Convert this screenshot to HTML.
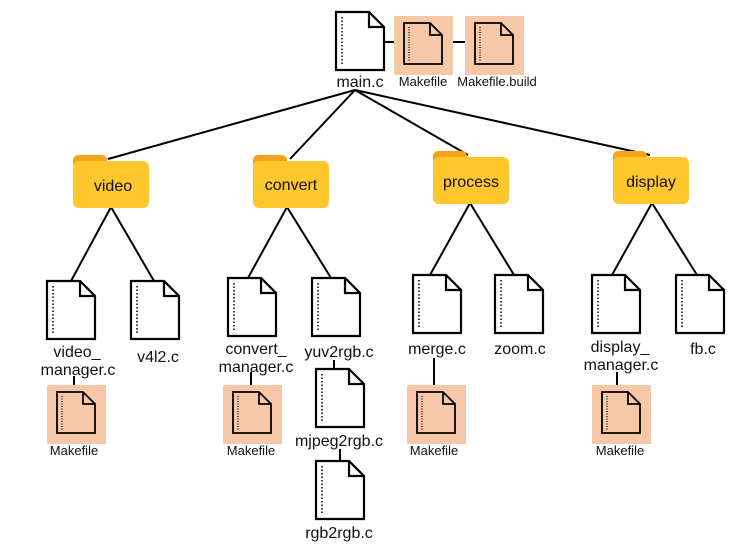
<!DOCTYPE html>
<html><head><meta charset="utf-8"><style>
html,body{margin:0;padding:0;background:#fff;}
svg{display:block;}
text{font-family:"Liberation Sans",sans-serif;fill:#111;}
</style></head><body>
<svg width="744" height="560" viewBox="0 0 744 560" xmlns="http://www.w3.org/2000/svg">
<defs>
<g id="doc">
<path d="M0,0 H33 L48,15 V58 H0 Z" fill="#fff" stroke="#000" stroke-width="2.2" stroke-linejoin="miter"/>
<path d="M33,0 V15 H48" fill="none" stroke="#000" stroke-width="2.2"/>
<line x1="6" y1="5" x2="6" y2="54" stroke="#000" stroke-width="1.5" stroke-dasharray="1.5,2"/>
</g>
<g id="mk">
<rect x="0" y="0" width="59" height="59" fill="#f7c8a8"/>
<path d="M10,7 H36 L48,19 V48 H10 Z" fill="none" stroke="#000" stroke-width="1.8"/>
<path d="M36,7 V19 H48" fill="none" stroke="#000" stroke-width="1.8"/>
<line x1="15" y1="11" x2="15" y2="45" stroke="#000" stroke-width="1.2" stroke-dasharray="1,1.5"/>
</g>
<g id="fold">
<rect x="0" y="0" width="34" height="14" rx="5" fill="#f7a21b"/>
<rect x="0" y="6" width="76" height="47" rx="6" fill="#ffc72c"/>
</g>
</defs>

<g stroke="#000" stroke-width="2" fill="none">
<line x1="384" y1="42" x2="394" y2="42"/>
<line x1="453" y1="42" x2="465" y2="42"/>
<line x1="355" y1="90" x2="108" y2="159"/>
<line x1="355" y1="90" x2="290" y2="159"/>
<line x1="355" y1="90" x2="468" y2="155"/>
<line x1="355" y1="90" x2="650" y2="155"/>
<line x1="111" y1="207" x2="71" y2="281"/>
<line x1="111" y1="207" x2="154" y2="281"/>
<line x1="74" y1="376" x2="74" y2="385"/>
<line x1="287" y1="207" x2="248" y2="278"/>
<line x1="287" y1="207" x2="331" y2="278"/>
<line x1="251" y1="372" x2="251" y2="385"/>
<line x1="334" y1="360" x2="334" y2="369"/>
<line x1="340" y1="449" x2="340" y2="461"/>
<line x1="470" y1="203" x2="430" y2="275"/>
<line x1="470" y1="203" x2="514" y2="275"/>
<line x1="434" y1="358" x2="434" y2="385"/>
<line x1="652" y1="203" x2="612" y2="275"/>
<line x1="652" y1="203" x2="697" y2="275"/>
<line x1="617" y1="372" x2="617" y2="385"/>
</g>

<use href="#doc" x="336" y="12"/>
<use href="#mk" x="394" y="16"/>
<use href="#mk" x="465" y="16"/>
<text x="360" y="87" font-size="16" text-anchor="middle">main.c</text>
<text x="423" y="86" font-size="13" text-anchor="middle">Makefile</text>
<text x="497" y="86" font-size="13" text-anchor="middle">Makefile.build</text>

<use href="#fold" x="73" y="155"/>
<text x="113" y="191" font-size="16" text-anchor="middle">video</text>
<use href="#fold" x="253" y="155"/>
<text x="291" y="190" font-size="16" text-anchor="middle">convert</text>
<use href="#fold" x="433" y="151"/>
<text x="471" y="187" font-size="16" text-anchor="middle">process</text>
<use href="#fold" x="613" y="151"/>
<text x="651" y="187" font-size="16" text-anchor="middle">display</text>

<use href="#doc" x="47" y="281"/>
<use href="#doc" x="131" y="281"/>
<text x="77" y="357" font-size="16" text-anchor="middle">video_</text>
<text x="78" y="375" font-size="16" text-anchor="middle">manager.c</text>
<text x="158" y="362" font-size="16" text-anchor="middle">v4l2.c</text>
<use href="#mk" x="47" y="385"/>
<text x="74" y="455" font-size="13" text-anchor="middle">Makefile</text>

<use href="#doc" x="228" y="278"/>
<use href="#doc" x="312" y="278"/>
<use href="#doc" x="316" y="369"/>
<use href="#doc" x="316" y="461"/>
<text x="256" y="354" font-size="16" text-anchor="middle">convert_</text>
<text x="256" y="372" font-size="16" text-anchor="middle">manager.c</text>
<text x="339" y="357" font-size="16" text-anchor="middle">yuv2rgb.c</text>
<text x="339" y="446" font-size="16" text-anchor="middle">mjpeg2rgb.c</text>
<text x="339" y="538" font-size="16" text-anchor="middle">rgb2rgb.c</text>
<use href="#mk" x="223" y="385"/>
<text x="251" y="455" font-size="13" text-anchor="middle">Makefile</text>

<use href="#doc" x="413" y="275"/>
<use href="#doc" x="495" y="275"/>
<text x="437" y="354" font-size="16" text-anchor="middle">merge.c</text>
<text x="520" y="354" font-size="16" text-anchor="middle">zoom.c</text>
<use href="#mk" x="407" y="385"/>
<text x="434" y="455" font-size="13" text-anchor="middle">Makefile</text>

<use href="#doc" x="592" y="275"/>
<use href="#doc" x="676" y="275"/>
<text x="620" y="352" font-size="16" text-anchor="middle">display_</text>
<text x="621" y="370" font-size="16" text-anchor="middle">manager.c</text>
<text x="703" y="354" font-size="16" text-anchor="middle">fb.c</text>
<use href="#mk" x="592" y="385"/>
<text x="620" y="455" font-size="13" text-anchor="middle">Makefile</text>
</svg>
</body></html>
